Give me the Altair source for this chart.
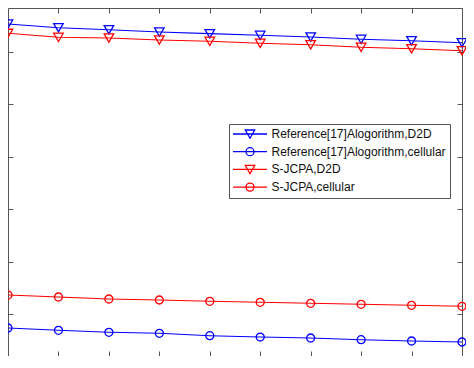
import altair as alt
import pandas as pd

x_vals = [0, 1, 2, 3, 4, 5, 6, 7, 8, 9]
series = [
    "Reference[17]Alogorithm,D2D",
    "Reference[17]Alogorithm,cellular",
    "S-JCPA,D2D",
    "S-JCPA,cellular",
]
ref_d2d = [6.533, 6.463, 6.425, 6.381, 6.349, 6.318, 6.286, 6.242, 6.215, 6.177]
ref_cell = [0.743, 0.699, 0.661, 0.642, 0.596, 0.571, 0.552, 0.520, 0.495, 0.476]
sj_d2d = [6.356, 6.280, 6.267, 6.229, 6.204, 6.166, 6.139, 6.090, 6.063, 6.025]
sj_cell = [1.371, 1.333, 1.295, 1.276, 1.251, 1.232, 1.213, 1.194, 1.175, 1.156]

rows = []
for name, vals in zip(series, [ref_d2d, ref_cell, sj_d2d, sj_cell]):
    for xv, yv in zip(x_vals, vals):
        rows.append({"x": xv, "y": yv, "series": name})
df = pd.DataFrame(rows)

colors = ["#0000ff", "#0000ff", "#ff0000", "#ff0000"]
# plot markers (size 1156 -> 17 px per unit)
tri_p = "M-0.28,-0.24L0.28,-0.24L0,0.25Z"
circ_p = "M0.235,0A0.235,0.235,0,1,1,-0.235,0A0.235,0.235,0,1,1,0.235,0"
# legend markers (size 100 -> 5 px per unit), with the line through them
tri_l = "M-3.4,0H3.4M-0.94,-0.8L0.94,-0.8L0,0.86Z"
circ_l = "M-3.4,0H3.4M0.8,0A0.8,0.8,0,1,1,-0.8,0A0.8,0.8,0,1,1,0.8,0"

xscale = alt.Scale(domain=[0, 9], nice=False, zero=False)
yscale = alt.Scale(domain=[0.2095, 6.838], nice=False, zero=False)
cscale = alt.Scale(domain=series, range=colors)

def ax(orient, values):
    return alt.Axis(orient=orient, values=values, labels=False, domain=False,
                    grid=False, tickSize=5, offset=-5, title=None,
                    tickColor="#555555", tickWidth=1)

lines = alt.Chart(df).mark_line(strokeWidth=1.1).encode(
    x=alt.X("x:Q", scale=xscale, axis=ax("bottom", x_vals)),
    y=alt.Y("y:Q", scale=yscale, axis=ax("left", [1, 2, 3, 4, 5, 6])),
    color=alt.Color("series:N", scale=cscale, legend=None),
    detail="series:N",
)

points = alt.Chart(df).mark_point(filled=False, size=1156, strokeWidth=1.3, opacity=1).encode(
    x=alt.X("x:Q", scale=xscale, axis=ax("top", x_vals)),
    y=alt.Y("y:Q", scale=yscale, axis=ax("right", [1, 2, 3, 4, 5, 6])),
    color=alt.Color("series:N", scale=cscale, legend=None),
    shape=alt.Shape("series:N", scale=alt.Scale(domain=series, range=[tri_p, circ_p, tri_p, circ_p]),
                    legend=None),
)

leg = alt.Legend(orient="none", legendX=221, legendY=116, title=None)
legend_layer = alt.Chart(df).transform_filter("false").mark_point(
    filled=False, size=100, strokeWidth=1.3, opacity=1
).encode(
    x=alt.X("x:Q", scale=xscale, axis=None),
    y=alt.Y("y:Q", scale=yscale, axis=None),
    color=alt.Color("series:N", scale=cscale, title=None, legend=leg),
    shape=alt.Shape("series:N", scale=alt.Scale(domain=series, range=[tri_l, circ_l, tri_l, circ_l]),
                    title=None, legend=leg),
)

chart = alt.layer(lines, points, legend_layer).resolve_axis(
    x="independent", y="independent"
).resolve_scale(color="independent", shape="independent").properties(
    width=454, height=348,
    padding={"left": 0, "top": 0, "right": 4, "bottom": 0},
    autosize=alt.AutoSizeParams(type="none"),
).configure_view(
    stroke="#555555", strokeWidth=1, fill="white"
).configure_legend(
    symbolSize=100, symbolStrokeWidth=1.3, labelFont="Liberation Sans",
    labelFontSize=12, labelColor="#111111", strokeColor="#555555",
    fillColor="white", padding=4, rowPadding=3.7, labelOffset=15.5,
    symbolOffset=11, labelLimit=400,
)

chart.save("out.html", embed_options={"renderer": "svg", "actions": False})
